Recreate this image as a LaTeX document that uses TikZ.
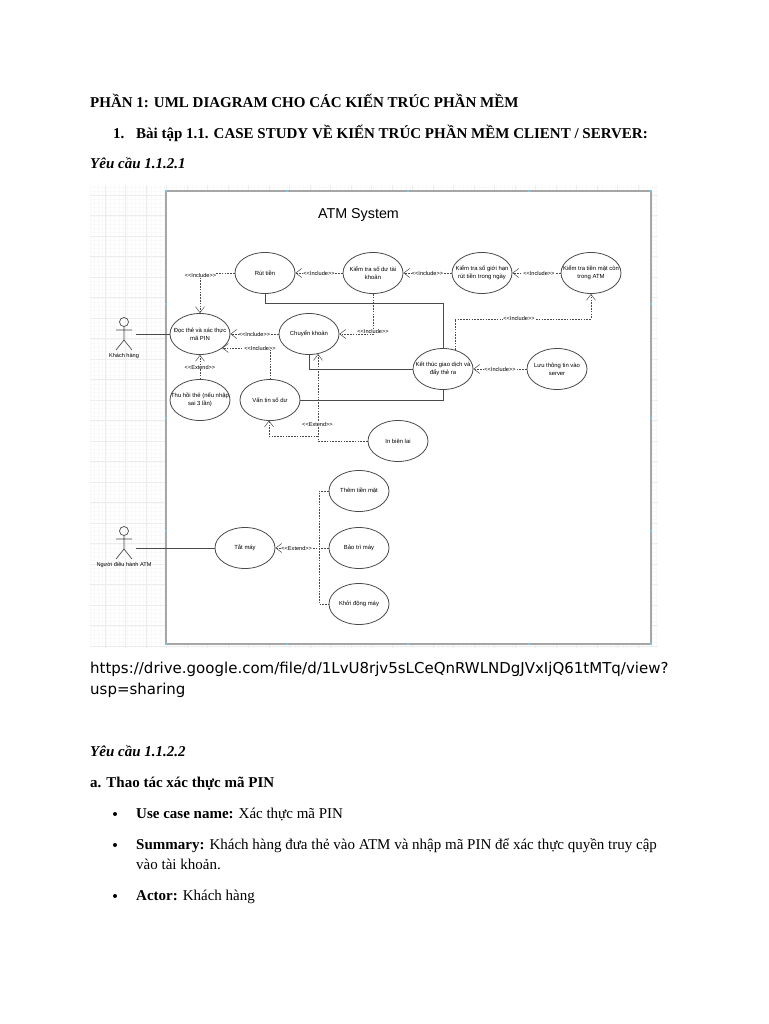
\documentclass[tikz,border=0pt]{standalone}
\usepackage{fontspec}
\setmainfont{Liberation Serif}
\newfontfamily\umlfont{Liberation Sans}
\newfontfamily\linkfont{DejaVu Sans}
\usetikzlibrary{arrows.meta, shapes.geometric}
\definecolor{cgrid}{HTML}{EDEDED}
\definecolor{cframe}{HTML}{A6A6A6}
\definecolor{cline}{HTML}{4A4A4A}
\definecolor{chandle}{HTML}{7CC4EC}
\tikzset{
  usecase/.style={draw=cline, ellipse, fill=white, line width=0.8pt, minimum width=60pt, minimum height=41pt, inner sep=-12pt, align=center, font=\umlfont\fontsize{5.9}{8}\selectfont},
  rel/.style={draw=cline, line width=0.7pt},
  dep/.style={rel, dash pattern=on 1.6pt off 1.2pt, -{Straight Barb[length=6pt, width=9pt, line width=0.5pt]}},
  depline/.style={rel, dash pattern=on 1.6pt off 1.2pt},
  stereo/.style={fill=white, inner sep=0.4pt, font=\umlfont\fontsize{5.6}{7}\selectfont},
  actorname/.style={font=\umlfont\fontsize{5.6}{7}\selectfont},
  para/.style={anchor=base west, inner sep=0pt, font=\fontsize{15}{18}\selectfont},
  link/.style={anchor=base west, inner sep=0pt, font=\linkfont\fontsize{15}{18}\selectfont},
  actor/.pic={
    \draw[cline, line width=0.7pt] (0,-12) circle (4.5) (0,-7.5) -- (0,6) (-8,-4) -- (8,-4) (-8,16) -- (0,6) -- (8,16);
  },
}
\begin{document}
\begin{tikzpicture}[x=1pt, y=-1pt]
  \useasboundingbox (0,0) rectangle (768,1024);
  % text above the drawing
  \node[para] (head) at (90,107.5) {\bfseries PHẦN 1: UML DIAGRAM CHO CÁC KIẾN TRÚC PHẦN MỀM};
  \node[para] (num) at (113,138.5) {\bfseries 1.};
  \node[para] (task) at (136,138.5) {\bfseries Bài tập 1.1. CASE STUDY VỀ KIẾN TRÚC PHẦN MỀM CLIENT / SERVER:};
  \node[para] (reqa) at (90,169) {\bfseries\itshape Yêu cầu 1.1.2.1};
  % grid behind the frame
  \foreach \x in {90,94.1,...,658} \draw[cgrid!35, line width=0.3pt] (\x,185) -- (\x,648);
  \foreach \y in {187,191.1,...,648} \draw[cgrid!35, line width=0.3pt] (90,\y) -- (658,\y);
  \foreach \x in {105,125.5,...,658} \draw[cgrid, line width=0.6pt] (\x,185) -- (\x,648);
  \foreach \y in {195,215.5,...,648} \draw[cgrid, line width=0.6pt] (90,\y) -- (658,\y);
  \draw[cframe, fill=white, line width=1.5pt] (166,191) rectangle (651,644);
  \foreach \x in {166,287,408,529,651} \foreach \y in {191,644} \fill[chandle] (\x-1,\y-1) rectangle (\x+1,\y+1);
  \foreach \x in {166,651} \foreach \y in {304,418,531} \fill[chandle] (\x-1,\y-1) rectangle (\x+1,\y+1);
  \node[font=\umlfont\fontsize{14.3}{16}\selectfont] (title) at (358.5,214.5) {ATM System};
  % use cases
  \node[usecase] (rut) at (265,273) {Rút tiền};
  \node[usecase] (sodu) at (373,273) {Kiểm tra số dư tài\\khoản};
  \node[usecase] (gioihan) at (482,273) {Kiểm tra số giới hạn\\rút tiền trong ngày};
  \node[usecase] (tienmat) at (591,273) {Kiểm tra tiền mặt còn\\trong ATM};
  \node[usecase] (doc) at (200,334) {Đọc thẻ và xác thực\\mã PIN};
  \node[usecase] (chuyen) at (309,334) {Chuyển khoản};
  \node[usecase] (ketthuc) at (443,369) {Kết thúc giao dịch và\\đẩy thẻ ra};
  \node[usecase] (luu) at (557,369) {Lưu thông tin vào\\server};
  \node[usecase] (thuhoi) at (200,400) {Thu hồi thẻ (nếu nhập\\sai 3 lần)};
  \node[usecase] (vantin) at (270,400) {Vấn tin số dư};
  \node[usecase] (inbl) at (398,441) {In biên lai};
  \node[usecase] (them) at (359,491) {Thêm tiền mặt};
  \node[usecase] (baotri) at (359,548) {Bảo trì máy};
  \node[usecase] (khoi) at (359,604) {Khởi động máy};
  \node[usecase] (tat) at (245,548) {Tắt máy};
  % actors
  \pic at (124,334) {actor};
  \pic at (124,543) {actor};
  \node[actorname] (khach) at (124,356) {Khách hàng};
  \node[actorname] (nguoi) at (124,565) {Người điều hành ATM};
  \coordinate (khachend) at (136,334);
  \coordinate (nguoiend) at (136,548);
  \draw[rel] (khachend) -- (doc);
  \draw[rel] (nguoiend) -- (tat);
  % solid lines into the end of the transaction
  \draw[rel] (rut.south) |- (443,303) -- (ketthuc.north);
  \draw[rel] (chuyen.south) |- (ketthuc.west);
  \draw[rel] (vantin.east) -- (443,400) -- (ketthuc.south);
  % include, extend
  \draw[dep] (sodu) -- node[stereo] (a1) {<<Include>>} (rut);
  \draw[dep] (gioihan) -- node[stereo] (a2) {<<Include>>} (sodu);
  \draw[dep] (tienmat) -- node[stereo, pos=0.45] (a3) {<<Include>>} (gioihan);
  \draw[dep] (chuyen) -- node[stereo] (a4) {<<Include>>} (doc);
  \draw[dep] (luu) -- node[stereo] (a5) {<<Include>>} (ketthuc);
  \draw[dep] (thuhoi) -- node[stereo] (a6) {<<Extend>>} (doc);
  \draw[dep] (rut.west) -- (200,273) -- (doc.north);
  \node[stereo] (a7) at (200.5,275) {<<Include>>};
  \draw[dep] (sodu.south) -- (373,334) -- (chuyen.east);
  \node[stereo] (a8) at (373,331.5) {<<Include>>};
  \coordinate (docin) at (222,348);
  \draw[dep] (vantin.north) -- (270,348) -- (docin);
  \node[stereo] (a9) at (260,348) {<<Include>>};
  \coordinate (ketout) at (455,350);
  \draw[dep] (ketout) -- (455,319) -- (591,319) -- (tienmat.south);
  \node[stereo] (a10) at (519,318.5) {<<Include>>};
  \coordinate (chuyenin) at (318,354);
  \coordinate (vantinin) at (269,420.5);
  \draw[dep] (inbl.west) -- (318,441) -- (chuyenin);
  \draw[dep] (318,436) -- (269,436) -- (vantinin);
  \node[stereo] (a11) at (317.5,424) {<<Extend>>};
  \draw[depline] (them.west) -- (319,491) -- (319,604) -- (khoi.west);
  \draw[dep] (baotri) -- node[stereo, pos=0.6] (a12) {<<Extend>>} (tat);
  % text below the drawing
  \node[link] (url) at (90,673) {https://drive.google.com/file/d/1LvU8rjv5sLCeQnRWLNDgJVxIjQ61tMTq/view?};
  \node[link] (urlb) at (90,694) {usp=sharing};
  \node[para] (reqb) at (90,756) {\bfseries\itshape Yêu cầu 1.1.2.2};
  \node[para] (suba) at (90,787) {\bfseries a. Thao tác xác thực mã PIN};
  \foreach \y/\t in {818/{\textbf{Use case name:} Xác thực mã PIN}, 849/{\textbf{Summary:} Khách hàng đưa thẻ vào ATM và nhập mã PIN để xác thực quyền truy cập}, 869/{vào tài khoản.}, 900/{\textbf{Actor:} Khách hàng}}
    \node[para] at (136,\y) {\t};
  \foreach \y in {814,845,896} \fill (115,\y) circle (2);
\end{tikzpicture}
\end{document}
